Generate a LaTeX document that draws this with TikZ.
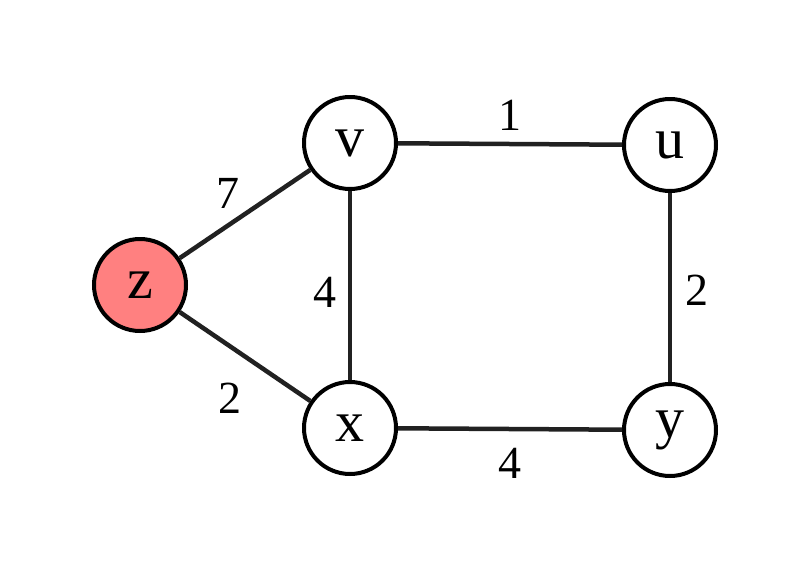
\documentclass[tikz,border=0pt]{standalone}
\usepackage{fontspec}
\setmainfont{Liberation Serif}
\begin{document}
\begin{tikzpicture}[x=1pt,y=-1pt,
  vert/.style={circle,draw=black,line width=4pt,fill=white,minimum size=92pt,inner sep=0pt,font=\fontsize{58}{58}\selectfont},
  edge/.style={draw=black!87,line width=4.5pt},
  lab/.style={font=\fontsize{46}{46}\selectfont}]
\useasboundingbox (0,0) rectangle (798,584);
\node[vert,fill={rgb,255:red,255;green,128;blue,128}] (z) at (140,285) {z};
\node[vert] (v) at (350,143) {v};
\node[vert] (u) at (670,145) {u};
\node[vert] (x) at (350,428) {x};
\node[vert] (y) at (670,430) {y};
\draw[edge] (z) -- (v);
\draw[edge] (z) -- (x);
\draw[edge] (v) -- (u);
\draw[edge] (v) -- (x);
\draw[edge] (u) -- (y);
\draw[edge] (x) -- (y);
\node[lab] (l1) at (228,193) {7};
\node[lab] (l2) at (325,292) {4};
\node[lab] (l3) at (230,398) {2};
\node[lab] (l4) at (510,115) {1};
\node[lab] (l5) at (697,290) {2};
\node[lab] (l6) at (510,463) {4};
\end{tikzpicture}
\end{document}
